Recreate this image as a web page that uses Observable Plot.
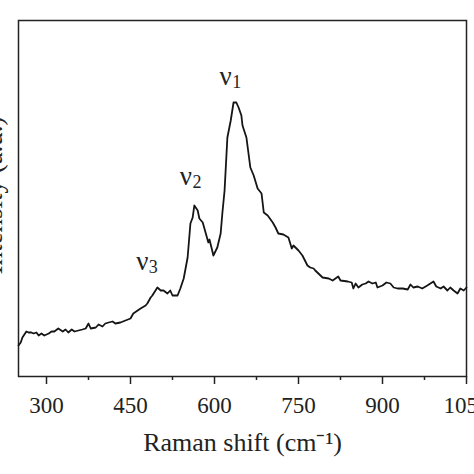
<!DOCTYPE html>
<html><head><meta charset="utf-8">
<script src="https://cdn.jsdelivr.net/npm/d3@7"></script>
<script src="https://cdn.jsdelivr.net/npm/@observablehq/plot@0.6"></script>
<style>body{margin:0;background:#fff;overflow:hidden} svg{display:block}</style>
</head><body><div id="chart"></div>
<script>
// Raman shift (cm^-1)
const ramanShift = [250,254,257,264,268,273,277,282,286,291,296,304,309,314,321,329,334,339,345,350,357,364,370,375,379,388,393,400,405,411,418,423,432,441,450,455,468,477,480,486,489,498,504,509,516,521,525,534,539,545,552,557,561,564,570,573,579,584,589,591,595,598,605,611,614,618,623,629,634,639,643,648,650,657,664,670,677,684,688,695,704,709,714,723,732,738,741,750,757,766,771,777,780,793,804,811,816,821,825,838,845,848,852,857,864,870,875,882,888,891,900,907,914,920,927,936,945,950,955,963,971,980,991,996,1004,1009,1016,1021,1027,1034,1039,1045,1050];
// Intensity (a.u.)
const intensity = [31,34,39,45,44,44,43,44,41,43,41,43,45,45,48,45,47,44,47,45,46,47,48,53,48,49,52,50,53,54,55,53,54,56,58,63,68,71,73,79,81,89,86,86,83,86,81,81,88,98,119,153,159,171,166,158,154,144,134,137,128,121,129,143,163,186,239,256,274,274,269,261,251,239,209,201,188,183,164,161,154,149,143,142,139,128,131,126,121,111,109,108,106,99,98,96,98,100,96,95,94,88,93,89,92,93,95,93,94,89,91,94,93,89,88,88,87,92,89,90,88,91,95,90,88,90,86,89,86,83,88,86,89];
const majorTicks = [300,450,600,750,900,1050];
const minorTicks = [375,525,675,825,975];
const peakNames = ["ν","ν","ν"];
const peakSubs = ["1","2","3"];
const peakX = [620,549,471];
const peakY = [300,200,115];
const xTitle = "Raman shift (cm⁻¹)";
const yTitle = "Intensity (a.u.)";

const data = ramanShift.map((x, i) => ({x, y: intensity[i]}));
const peaks = peakNames.map((n, i) => ({n, s: peakSubs[i], x: peakX[i], y: peakY[i]}));
const font = "Liberation Serif";

const chart = Plot.plot({
  width: 474,
  height: 474,
  marginLeft: 18,
  marginRight: 8,
  marginTop: 20,
  marginBottom: 98,
  style: {fontFamily: font, background: "#fff", overflow: "visible"},
  x: {domain: [250, 1050]},
  y: {domain: [0, 356], axis: null},
  marks: [
    Plot.frame({stroke: "#222", strokeWidth: 1.5}),
    Plot.line(data, {x: "x", y: "y", stroke: "#151515", strokeWidth: 1.8}),
    Plot.axisX(majorTicks, {tickSize: 8, tickPadding: 12, tickFormat: (d) => String(d), fontSize: 23, fontFamily: font, fill: "#222", stroke: "#222", strokeWidth: 1.5, label: null}),
    Plot.axisX(minorTicks, {tickSize: 4, tickFormat: () => "", stroke: "#222", strokeWidth: 1.5, label: null}),
    Plot.text([xTitle], {frameAnchor: "bottom", dy: 66, lineAnchor: "middle", fontSize: 26, fontFamily: font, fill: "#222"}),
    Plot.text([yTitle], {frameAnchor: "left", textAnchor: "middle", rotate: -90, dx: -17, dy: -3, lineAnchor: "bottom", fontSize: 27, fontFamily: font, fill: "#222"}),
    Plot.text(peaks, {x: "x", y: "y", text: "n", fontSize: 27, fontFamily: font, fill: "#222", lineAnchor: "middle"}),
    Plot.text(peaks, {x: "x", y: "y", text: "s", dx: 11, dy: 6, fontSize: 18, fontFamily: font, fill: "#222", lineAnchor: "middle"})
  ]
});
document.getElementById("chart").append(chart);
</script>
</body></html>
